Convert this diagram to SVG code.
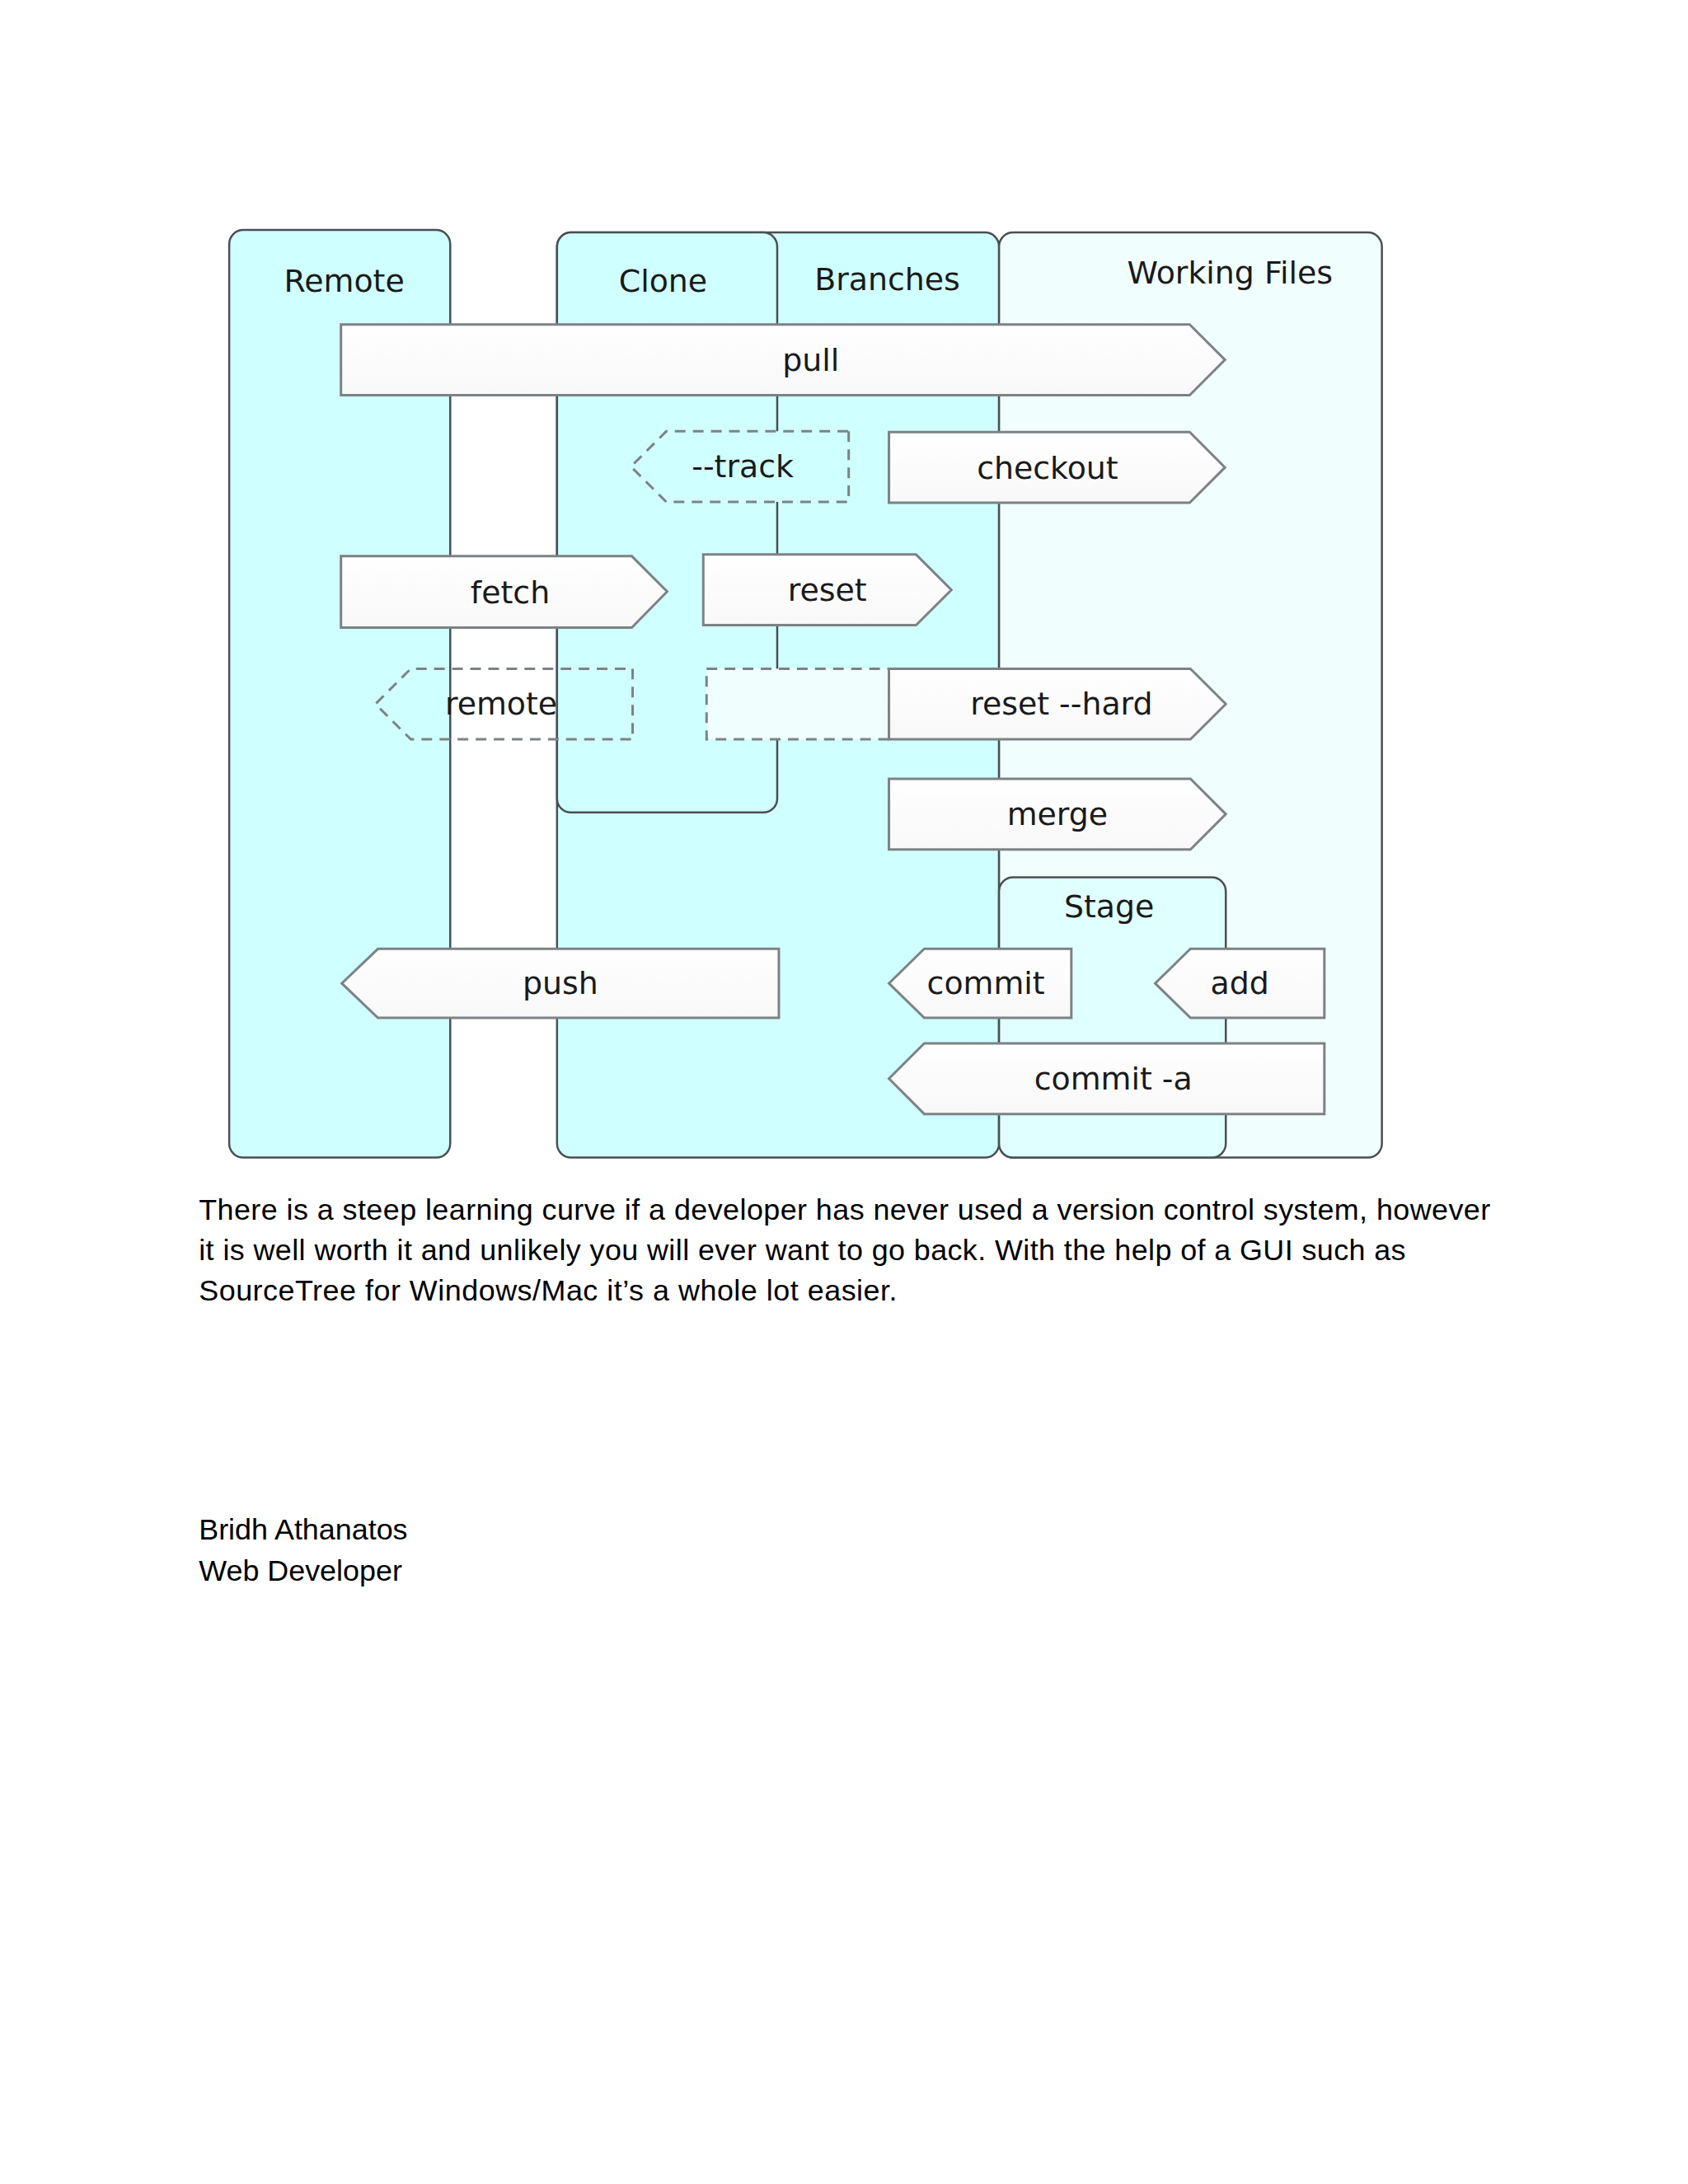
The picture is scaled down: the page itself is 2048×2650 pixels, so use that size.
<svg xmlns="http://www.w3.org/2000/svg" width="2048" height="2650" viewBox="0 0 2048 2650">
<defs>
<linearGradient id="ag" x1="0" y1="0" x2="0" y2="1">
<stop offset="0" stop-color="#ffffff"/>
<stop offset="1" stop-color="#f8f8f8"/>
</linearGradient>
<style>
.lane{stroke:#4a4f52;stroke-width:2.5}
.cy{fill:#d0ffff}
.wf{fill:#f1fefe}
.st{fill:#e0ffff}
.arr{fill:url(#ag);stroke:#7c8285;stroke-width:3}
.dash{stroke:#7c8285;stroke-width:3;stroke-dasharray:13 9}
.lbl{font-family:"DejaVu Sans",sans-serif;font-size:38px;fill:#1a1a1a;text-anchor:middle}
.body{font-family:"Liberation Sans",Arial,sans-serif;font-size:36px;fill:#000}
</style>
</defs>
<rect width="2048" height="2650" fill="#ffffff"/>
<g transform="scale(0.9968)">
<g id="remote-lane">
<rect class="lane cy" x="279" y="280" width="269" height="1129" rx="17"/>
<text class="lbl" x="419" y="355">Remote</text>
</g>
<g id="branches-lane">
<rect class="lane cy" x="678" y="283" width="538" height="1126" rx="17"/>
<text class="lbl" x="1080" y="353">Branches</text>
</g>
<g id="clone-lane">
<rect class="lane cy" x="678" y="283" width="268" height="706" rx="17"/>
<text class="lbl" x="807" y="355">Clone</text>
</g>
<g id="working-files-lane">
<rect class="lane wf" x="1216" y="283" width="466" height="1126" rx="17"/>
<text class="lbl" x="1497" y="345">Working Files</text>
</g>
<g id="stage-lane">
<rect class="lane st" x="1216" y="1068" width="276" height="341" rx="17"/>
<text class="lbl" x="1350" y="1117">Stage</text>
</g>
<g id="connectors">
<g id="pull">
<path class="arr" d="M415,395 H1448 L1491,438 L1448,481 H415 Z"/>
<text class="lbl" x="987" y="451">pull</text>
</g>
<g id="track">
<path class="dash" fill="#d0ffff" d="M1033,525 V611 H811 L768,568 L811,525 Z"/>
<text class="lbl" x="904" y="581">--track</text>
</g>
<g id="checkout">
<path class="arr" d="M1082,526 H1448 L1491,569 L1448,612 H1082 Z"/>
<text class="lbl" x="1275" y="583">checkout</text>
</g>
<g id="fetch">
<path class="arr" d="M415,677 H769 L812,720 L769,764 H415 Z"/>
<text class="lbl" x="621" y="734">fetch</text>
</g>
<g id="reset">
<path class="arr" d="M856,675 H1115 L1158,718 L1115,761 H856 Z"/>
<text class="lbl" x="1007" y="731">reset</text>
</g>
<g id="remote">
<path class="dash" fill="none" d="M770,814 V900 H500 L457,857 L500,814 Z"/>
<text class="lbl" x="610" y="870">remote</text>
</g>
<g id="reset-placeholder">
<rect class="dash" fill="#f1fefe" x="860" y="814" width="222" height="86"/>
</g>
<g id="reset-hard">
<path class="arr" d="M1082,814 H1449 L1492,857 L1449,900 H1082 Z"/>
<text class="lbl" x="1292" y="870">reset --hard</text>
</g>
<g id="merge">
<path class="arr" d="M1082,948 H1449 L1492,991 L1449,1034 H1082 Z"/>
<text class="lbl" x="1287" y="1004">merge</text>
</g>
<g id="push">
<path class="arr" d="M948,1155 V1239 H460 L416,1197 L460,1155 Z"/>
<text class="lbl" x="682" y="1210">push</text>
</g>
<g id="commit">
<path class="arr" d="M1304,1155 V1239 H1125 L1082,1197 L1125,1155 Z"/>
<text class="lbl" x="1200" y="1210">commit</text>
</g>
<g id="add">
<path class="arr" d="M1612,1155 V1239 H1449 L1406,1197 L1449,1155 Z"/>
<text class="lbl" x="1509" y="1210">add</text>
</g>
<g id="commit-a">
<path class="arr" d="M1612,1270 V1356 H1125 L1082,1313 L1125,1270 Z"/>
<text class="lbl" x="1355" y="1326">commit -a</text>
</g>
</g>
<g id="caption">
<text class="body" x="242" y="1485" textLength="1572" lengthAdjust="spacing">There is a steep learning curve if a developer has never used a version control system, however</text>
<text class="body" x="242" y="1534" textLength="1469" lengthAdjust="spacing">it is well worth it and unlikely you will ever want to go back. With the help of a GUI such as</text>
<text class="body" x="242" y="1583" textLength="850" lengthAdjust="spacing">SourceTree for Windows/Mac it’s a whole lot easier.</text>
<text class="body" x="242" y="1874">Bridh Athanatos</text>
<text class="body" x="242" y="1924">Web Developer</text>
</g>
</g>
</svg>
